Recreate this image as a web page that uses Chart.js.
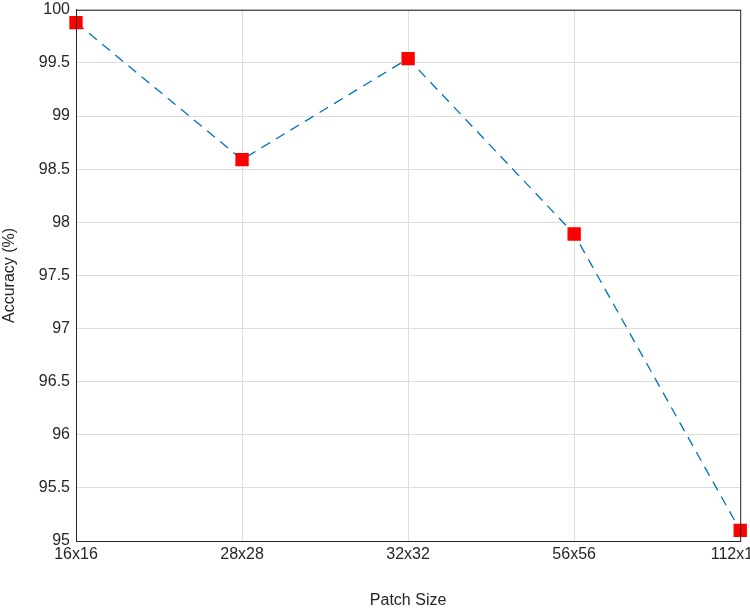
<!DOCTYPE html>
<html><head><meta charset="utf-8">
<script src="https://cdn.jsdelivr.net/npm/chart.js@4"></script>
<style>html,body{margin:0;padding:0;background:#fff}#w{width:750px;height:610px}</style>
</head><body><div id="w"><canvas id="c"></canvas></div>
<script>
const categories = ["16x16","28x28","32x32","56x56","112x112"];
const accuracy = [99.88, 98.59, 99.54, 97.89, 95.1];
const yTicks = [95,95.5,96,96.5,97,97.5,98,98.5,99,99.5,100];

const boxPlugin = {id:'box', afterDraw(ch){const a=ch.chartArea,c=ch.ctx;c.save();c.strokeStyle='#262626';c.lineWidth=1;c.strokeRect(a.left+0.5,a.top+0.5,a.right-a.left,a.bottom-a.top);c.restore();}};
const font = {family:'"Liberation Sans", Arial, sans-serif', size:16};
new Chart(document.getElementById('c'),{
 type:'line',
 data:{labels:categories,datasets:[{data:accuracy,borderColor:'#0072BD',borderWidth:1.3,borderDash:[10,7],
  pointStyle:'rect',pointRadius:8.5,pointHoverRadius:8.5,pointBackgroundColor:'#ff0000',pointBorderColor:'#ff0000',fill:false,tension:0,clip:false}]},
 options:{responsive:true,maintainAspectRatio:false,animation:false,
  layout:{padding:{top:7,right:6,left:0,bottom:0}},
  plugins:{legend:{display:false},tooltip:{enabled:false}},
  scales:{
   x:{type:'category',offset:false,grid:{color:'#dcdcdc',drawTicks:false},border:{color:'#262626'},
      ticks:{color:'#262626',font,padding:4,maxRotation:0},
      title:{display:true,text:'Patch Size',color:'#262626',font,padding:{top:2,bottom:0}},
      afterFit(s){s.height=69;s.paddingRight=0;s.paddingLeft=0;}},
   y:{min:95,max:100,grid:{color:'#dcdcdc',drawTicks:false},border:{color:'#262626'},
      afterBuildTicks(s){s.ticks=yTicks.map(v=>({value:v}));},
      ticks:{color:'#262626',font,padding:6,callback:v=>String(v)},
      title:{display:true,text:'Accuracy (%)',color:'#262626',font,padding:{top:0,bottom:4}},
      afterFit(s){s.width=76;s.paddingTop=0;s.paddingBottom=0;}}
  }},
 plugins:[boxPlugin]
});
</script></body></html>
